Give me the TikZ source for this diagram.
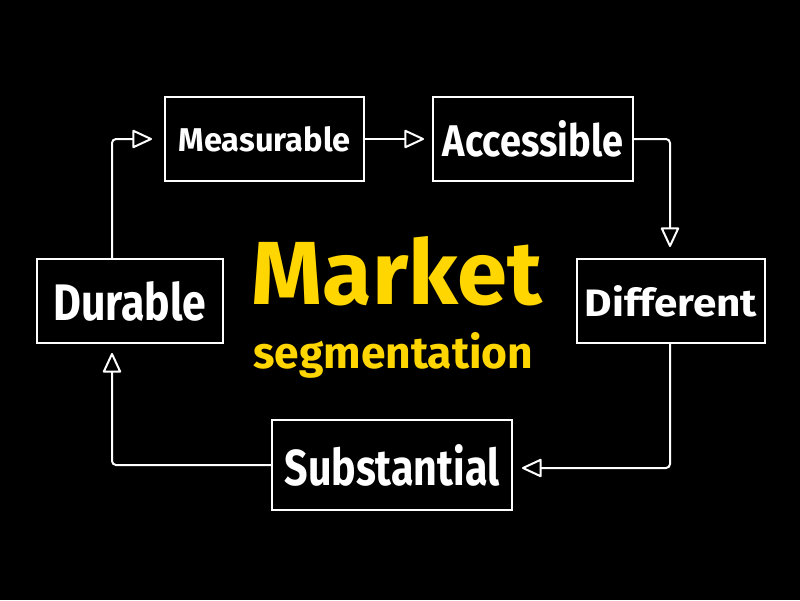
\documentclass[tikz,border=0pt]{standalone}
\usepackage{fontspec}
\setmainfont{Fira Sans}
\usepackage{graphicx}
\usetikzlibrary{arrows.meta}
\definecolor{mkyellow}{RGB}{255,214,0}
\newcommand{\fitword}[3]{\resizebox{#1pt}{#2pt}{#3}}
\tikzset{
  box/.style={draw=white, line width=2pt, inner sep=0pt, text=white, font=\bfseries},
  conn/.style={draw=white, line width=2pt, rounded corners=4pt,
    -{Triangle[open, length=21pt, width=19pt, line width=2pt, round]}},
  title/.style={text=mkyellow, font=\bfseries, inner sep=0pt},
}
\begin{document}
\begin{tikzpicture}[x=1pt,y=-1pt]
\fill[black] (0,0) rectangle (800,600);
\useasboundingbox (0,0) rectangle (800,600);
\node[box, minimum width=199pt, minimum height=84pt] (meas) at (264.5,139) {\fitword{172}{25}{Measurable}};
\node[box, minimum width=200pt, minimum height=84pt] (acc) at (533,139) {\fitword{180}{36}{Accessible}};
\node[box, minimum width=188pt, minimum height=84pt] (diff) at (671,301) {\fitword{172}{31}{Different}};
\node[box, minimum width=240pt, minimum height=90pt] (subst) at (392,465) {\fitword{215}{41}{Substantial}};
\node[box, minimum width=186pt, minimum height=84pt] (dur) at (130,301) {\fitword{153}{39}{Durable}};
\node[title] (mkt) at (397,271) {\fitword{290}{68}{Market}};
\node[title, anchor=base west] (seg) at (253,368) {\resizebox{280pt}{!}{segmentation}};
\draw[conn] ([xshift=-18pt]dur.north) |- ([xshift=-12pt]meas.west);
\draw[conn] (meas.east) -- ([xshift=-8pt]acc.west);
\draw[conn] (acc.east) -| ([xshift=-1pt, yshift=11pt]diff.north);
\draw[conn] ([xshift=-1pt]diff.south) |- ([xshift=9pt, yshift=-3pt]subst.east);
\draw[conn] (subst.west) -| ([xshift=-18pt, yshift=-9pt]dur.south);
\end{tikzpicture}
\end{document}
